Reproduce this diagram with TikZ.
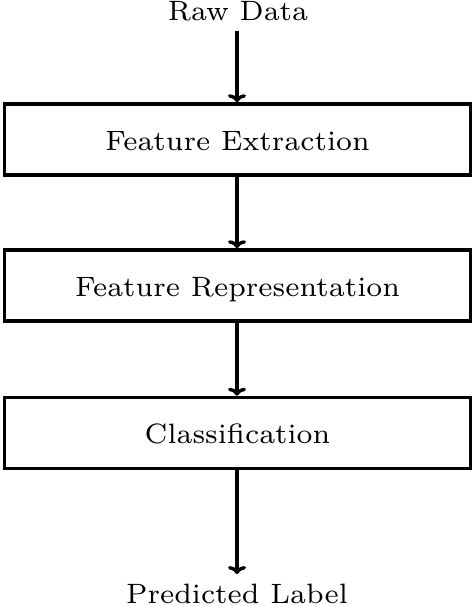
\documentclass[tikz,border=0pt]{standalone}
\usetikzlibrary{arrows.meta}
\newcommand{\lbltext}[1]{\scalebox{2.0}{\fontsize{7}{8}\selectfont #1}}
\begin{document}
\begin{tikzpicture}[x=0.5pt,y=-0.5pt,
  stagebox/.style={draw, line width=1.8pt, minimum width=233pt, minimum height=35.5pt, inner sep=0pt},
  plain/.style={inner sep=0pt},
  flow/.style={line width=1.7pt, -{To[length=4pt,width=9pt]}}]
\useasboundingbox (0,0) rectangle (474,606);
\node[plain, anchor=base] (raw) at (238,20) {\lbltext{Raw Data}};
\node[stagebox] (fe) at (237.5,139.5) {};
\node[plain, anchor=base] at (237.5,150) {\lbltext{Feature Extraction}};
\node[stagebox] (fr) at (237.5,285.5) {};
\node[plain, anchor=base] at (237.5,296) {\lbltext{Feature Representation}};
\node[stagebox] (cl) at (237.5,433) {};
\node[plain, anchor=base] at (237.5,443.5) {\lbltext{Classification}};
\node[plain, anchor=base] (pl) at (237,603) {\lbltext{Predicted Label}};
\coordinate (rawend) at (237,31);
\coordinate (plend) at (237,574);
\draw[flow] (rawend) -- (fe.north -| rawend);
\draw[flow] (fe.south -| rawend) -- (fr.north -| rawend);
\draw[flow] (fr.south -| rawend) -- (cl.north -| rawend);
\draw[flow] (cl.south -| rawend) -- (plend);
\end{tikzpicture}
\end{document}
